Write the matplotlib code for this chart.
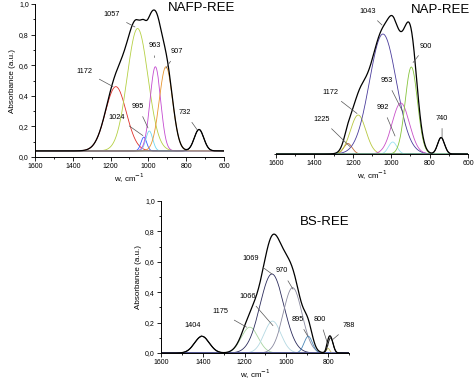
import numpy as np
import matplotlib
matplotlib.use('Agg')
import matplotlib.pyplot as plt
from matplotlib.ticker import MultipleLocator, FuncFormatter

plt.rcParams['font.family'] = ['Liberation Sans', 'DejaVu Sans']

# peak fit parameters: centre (cm-1), height, width (sigma)
nafp_pos = [1172, 1057, 1024, 995, 963, 907, 732]
nafp_amp = [0.42, 0.80, 0.09, 0.13, 0.55, 0.55, 0.14]
nafp_wid = [55, 55, 15, 18, 28, 35, 25]
nafp_col = ['#e0302a', '#b5d044', '#3a5cff', '#6fd6f0', '#c44ad0', '#e8962e', 'black']
nafp_base = 0.04

nap_pos = [1225, 1172, 1043, 992, 950, 895, 740]
nap_amp = [0.07, 0.26, 0.80, 0.08, 0.34, 0.58, 0.11]
nap_wid = [22, 40, 70, 22, 45, 32, 18]
nap_col = ['#c0703a', '#b8c840', '#4a3c9c', '#9ae2f2', '#c850c8', '#86c43c', 'black']
nap_base = 0.0

bs_pos = [1404, 1175, 1069, 1066, 970, 895, 800, 788]
bs_amp = [0.11, 0.17, 0.52, 0.21, 0.43, 0.11, 0.03, 0.10]
bs_wid = [35, 40, 57, 40, 45, 20, 8, 12]
bs_col = ['black', '#a8d4a0', '#2c2c5c', '#b4d8e2', '#8a8aa0', '#4a88b8', '#c8c060', 'black']
bs_base = 0.0

# annotations: label, text position (x, y), line end (x, y)
nafp_lab = ['1057', '963', '907', '1172', '995', '1024', '732']
nafp_txt = [(1193, 0.93), (965, 0.73), (849, 0.69), (1336, 0.56), (1055, 0.33), (1166, 0.26), (806, 0.29)]
nafp_tip = [(1071, 0.85), (968, 0.65), (907, 0.58), (1187, 0.46), (1002, 0.19), (1029, 0.14), (743, 0.18)]

nap_lab = ['1043', '900', '953', '1172', '992', '1225', '740']
nap_txt = [(1121, 0.95), (819, 0.72), (1022, 0.49), (1319, 0.41), (1043, 0.31), (1360, 0.23), (735, 0.24)]
nap_tip = [(1048, 0.86), (886, 0.61), (939, 0.28), (1178, 0.27), (980, 0.12), (1215, 0.05), (735, 0.11)]

bs_lab = ['1404', '1175', '1066', '1069', '970', '895', '800', '788']
bs_txt = [(1447, 0.18), (1318, 0.27), (1184, 0.37), (1169, 0.62), (1021, 0.54), (944, 0.22), (839, 0.22), (700, 0.18)]
bs_tip = [(1404, 0.11), (1190, 0.17), (1064, 0.18), (1069, 0.52), (968, 0.42), (897, 0.11), (800, 0.05), (777, 0.09)]

x = np.linspace(600, 1600, 2001)


def gauss(c, a, w):
    return a * np.exp(-0.5 * ((x - c) / w) ** 2)


def panel(ax, pos, amp, wid, col, base, lab, txt, tip, xlim, title, tx, ty, show_y=True, base_col='#999999'):
    total = np.full_like(x, base)
    for c, a, w, cl in zip(pos, amp, wid, col):
        g = gauss(c, a, w)
        total += g
        ax.plot(x, g + base, color=cl, lw=0.6)
    ax.plot(x, np.full_like(x, base), color=base_col, lw=0.8)
    ax.plot(x, total, color='black', lw=0.9)
    for t, p, q in zip(lab, txt, tip):
        ax.annotate(t, xy=q, xytext=p, fontsize=5.3, ha='center', va='center',
                    arrowprops=dict(arrowstyle='-', color='#555555', lw=0.5, shrinkA=3, shrinkB=0),
                    annotation_clip=False)
    ax.set_xlim(*xlim)
    ax.set_ylim(0, 1.0)
    ax.xaxis.set_major_locator(MultipleLocator(200))
    ax.xaxis.set_minor_locator(MultipleLocator(100))
    ax.yaxis.set_major_locator(MultipleLocator(0.2))
    ax.yaxis.set_minor_locator(MultipleLocator(0.1))
    ax.yaxis.set_major_formatter(FuncFormatter(lambda v, p: f'{v:.1f}'.replace('.', ',')))
    ax.tick_params(which='both', direction='out', labelsize=5, width=0.6, pad=1.5)
    ax.tick_params(which='major', length=3)
    ax.tick_params(which='minor', length=1.5)
    for s in ['top', 'right']:
        ax.spines[s].set_visible(False)
    for s in ['left', 'bottom']:
        ax.spines[s].set_linewidth(0.7)
    if show_y:
        ax.set_ylabel('Absorbance (a.u.)', fontsize=5.8, labelpad=2)
    else:
        ax.spines['left'].set_visible(False)
        ax.set_yticks([])
        ax.yaxis.set_minor_locator(MultipleLocator(10))
    ax.set_xlabel('w, cm$^{-1}$', fontsize=5.8, labelpad=1)
    ax.text(tx, ty, title, transform=ax.transAxes, fontsize=9.5, ha='right', va='top')


fig = plt.figure(figsize=(4.74, 3.8), dpi=100)
ax1 = fig.add_axes([0.0738, 0.5868, 0.3987, 0.4026])
ax2 = fig.add_axes([0.5823, 0.5947, 0.405, 0.3947])
ax3 = fig.add_axes([0.3397, 0.0710, 0.3966, 0.4])

panel(ax1, nafp_pos, nafp_amp, nafp_wid, nafp_col, nafp_base, nafp_lab, nafp_txt, nafp_tip,
      (1600, 600), 'NAFP-REE', 1.06, 1.01)
panel(ax2, nap_pos, nap_amp, nap_wid, nap_col, nap_base, nap_lab, nap_txt, nap_tip,
      (1600, 600), 'NAP-REE', 1.01, 1.0, show_y=False, base_col='#6ab8a0')
panel(ax3, bs_pos, bs_amp, bs_wid, bs_col, bs_base, bs_lab, bs_txt, bs_tip,
      (1600, 700), 'BS-REE', 1.0, 0.9, base_col='#4848c0')

fig.savefig('out.png', dpi=100)
